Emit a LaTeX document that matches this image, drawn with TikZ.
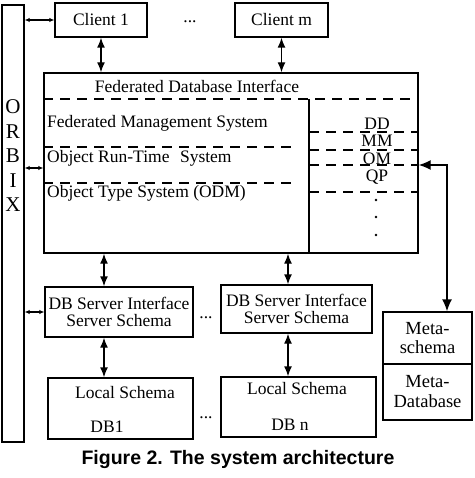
\documentclass[tikz,border=0pt]{standalone}
\usepackage{fontspec}
\setmainfont{Liberation Serif}
\newfontfamily\capfont{Liberation Sans}
\usepackage{tikz}
\usetikzlibrary{arrows.meta,positioning,calc}

\begin{document}
\begin{tikzpicture}[x=1pt, y=-1pt,
  box/.style={rectangle, draw=black, line width=1.4pt, inner sep=0pt, align=center,
              font=\fontsize{17.5}{17}\selectfont},
  lbl/.style={inner sep=0pt, font=\fontsize{17.5}{17}\selectfont},
  dline/.style={line width=1.4pt, dash pattern=on 10pt off 7pt},
  bigarr/.style={{Latex[length=10pt,width=8pt]}-{Latex[length=10pt,width=8pt]}, line width=1.4pt},
  smallarr/.style={{Latex[length=5pt,width=4.5pt]}-{Latex[length=5pt,width=4.5pt]}, line width=1.1pt},
  metaarr/.style={{Latex[length=12pt,width=10pt]}-{Latex[length=12pt,width=10pt]}, line width=1.4pt},
]
\useasboundingbox (0,0) rectangle (474,478);

% ORBIX bus
\node[box, minimum width=22pt, minimum height=437pt] (orbix) at (13,223.5) {};
\node[lbl, align=center, font=\fontsize{21}{24.5}\selectfont] (orbixlbl) at (13,156) {O\\R\\B\\I\\X};

% clients
\node[box, minimum width=92pt, minimum height=34pt] (client1) at (101,20) {Client 1};
\node[box, minimum width=93pt, minimum height=34pt] (clientm) at (281.5,20) {Client m};
\node[lbl] (cdots) at (190,22) {...};

% federated database interface
\node[box, minimum width=374pt, minimum height=180pt] (fdi) at (231,163) {};
\node[lbl] (fdititle) at (197,86) {Federated Database Interface};
\coordinate (vtop) at (309,99);
\coordinate (lcut1) at (292,147);
\coordinate (lcut2) at (292,183);
\draw[dline] (fdi.west |- vtop) -- (fdi.east |- vtop);
\draw[line width=1.4pt] (vtop) -- (vtop |- fdi.south);
\draw[dline] (fdi.west |- lcut1) -- (lcut1);
\draw[dline] (fdi.west |- lcut2) -- (lcut2);
\node[lbl, anchor=west] (fms) at (47,123) {Federated Management System};
\node[lbl, anchor=west] (orts) at (47,158) {Object Run-Time\hspace{0.6em}System};
\node[lbl, anchor=west] (ots) at (47,193) {Object Type System (ODM)};

% managers column
\foreach \yy in {132,150,165,192} {
  \draw[dline] (vtop |- 0,\yy) -- (fdi.east |- 0,\yy);
}
\node[lbl] (dd) at (377,124) {DD};
\node[lbl] (mm) at (377,141) {MM};
\node[lbl] (om) at (377,159) {OM};
\node[lbl] (qp) at (377,177) {QP};
\foreach \yy in {200,217,235} {
  \fill (376,\yy) circle (1.3pt);
}

% meta database
\node[box, minimum width=89pt, minimum height=52pt, font=\fontsize{18.5}{19}\selectfont] (metaschema) at (427.5,338) {Meta-\\schema};
\node[box, minimum width=89pt, minimum height=56pt, font=\fontsize{18.5}{20}\selectfont] (metadb) at (427.5,392) {Meta-\\Database};

% database servers
\node[box, minimum width=148pt, minimum height=50pt] (dbs1) at (119,312) {DB Server Interface\\Server Schema};
\node[box, minimum width=151pt, minimum height=48pt] (dbs2) at (296.5,309) {DB Server Interface\\Server Schema};
\node[lbl] (sdots) at (206,318) {...};

% local databases
\node[box, minimum width=145pt, minimum height=61pt] (local1) at (120.5,408.5) {};
\node[lbl] (ls1) at (125,393) {Local Schema};
\node[lbl] (db1) at (107,427) {DB1};
\node[box, minimum width=155pt, minimum height=60pt] (localn) at (298.5,407) {};
\node[lbl] (lsn) at (297,389) {Local Schema};
\node[lbl] (dbn) at (290,425) {DB n};
\node[lbl] (ldots) at (206,418) {...};

% connectors
\draw[smallarr] (orbix.east |- client1.west) -- (client1.west);
\draw[smallarr] ([yshift=-5pt]orbix.east |- fdi.west) -- ([yshift=-5pt]fdi.west);
\draw[smallarr] (orbix.east |- dbs1.west) -- (dbs1.west);
\draw[bigarr] (client1.south) -- (client1.south |- fdi.north);
\draw[bigarr] (clientm.south) -- (clientm.south |- fdi.north);
\draw[bigarr] ([xshift=-15pt]dbs1.north |- fdi.south) -- ([xshift=-15pt]dbs1.north);
\draw[bigarr] ([xshift=-8.5pt]dbs2.north |- fdi.south) -- ([xshift=-8.5pt]dbs2.north);
\draw[bigarr] ([xshift=-16.5pt]local1.north |- dbs1.south) -- ([xshift=-16.5pt]local1.north);
\draw[bigarr] ([xshift=-10.5pt]localn.north |- dbs2.south) -- ([xshift=-10.5pt]localn.north);
\draw[metaarr] ([yshift=-2pt]fdi.east) -| ([xshift=19.5pt]metaschema.north);

% caption
\node[inner sep=0pt, font=\capfont\bfseries\fontsize{19.5}{22}\selectfont] (caption) at (238,459) {Figure 2. The system architecture};
\end{tikzpicture}
\end{document}
